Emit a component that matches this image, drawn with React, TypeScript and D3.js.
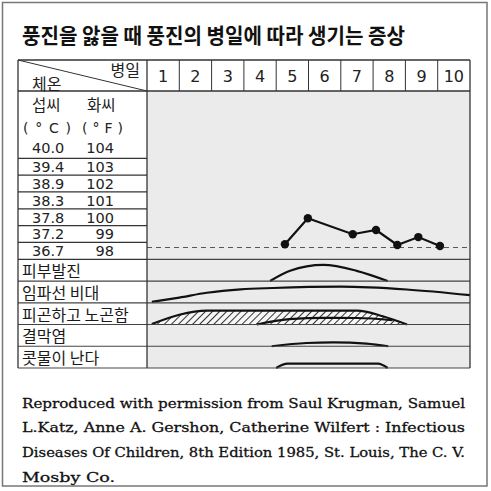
import React, { useEffect, useRef } from 'react';
import * as d3 from 'd3';

const title = '풍진을 앓을 때 풍진의 병일에 따라 생기는 증상';
const dayLabels = ['1', '2', '3', '4', '5', '6', '7', '8', '9', '10'];
const celsiusLabels = ['40.0', '39.4', '38.9', '38.3', '37.8', '37.2', '36.7'];
const fahrenheitTicks = [104, 103, 102, 101, 100, 99, 98];
const normalTempF = 98.7;

// fever curve: day position (0 = start of day 1) and temperature in °F
const feverDays = [4.27, 4.98, 6.37, 7.09, 7.75, 8.4, 9.07];
const feverTempsF = [98.89, 100.44, 99.49, 99.74, 98.85, 99.32, 98.79];

const symptoms = ['피부발진', '임파선 비대', '피곤하고 노곤함', '결막염', '콧물이 난다'];

// symptom intensity (0..1 of row height) against day position
const rashCurve: [number, number][] = [[3.81, 0], [4.43, 0.47], [5.46, 0.74], [6.49, 0.47], [7.45, 0]];
const lymphCurve: [number, number][] = [[0.15, 0.04], [1, 0.24], [1.85, 0.46], [2.9, 0.62], [3.9, 0.68], [6, 0.74], [8.04, 0.61], [10, 0.35]];
const fatigueOuter: [number, number][] = [[0.15, 0.02], [1, 0.45], [1.85, 0.64], [6.5, 0.64], [7.3, 0.38], [8.05, 0]];
const fatigueInner: [number, number][] = [[3.4, 0], [4.4, 0.25], [5.5, 0.31], [6.5, 0.3], [7.6, 0.2]];
const conjCurve: [number, number][] = [[3.86, 0], [4.94, 0.15], [5.77, 0.18], [6.8, 0.12], [7.47, 0]];
const coryzaCurve: [number, number][] = [[4.0, 0], [4.35, 0.2], [7.15, 0.2], [7.45, 0]];

const captionLines = [
  'Reproduced with permission from Saul Krugman, Samuel',
  'L.Katz, Anne A. Gershon, Catherine Wilfert : Infectious',
  'Diseases Of Children, 8th Edition 1985, St. Louis, The C. V.',
  'Mosby Co.',
];

const KR = '"Noto Sans CJK KR", "Noto Sans", sans-serif';
const NUM = '"DejaVu Sans", sans-serif';

export default function App() {
  const svgRef = useRef<SVGSVGElement>(null);

  useEffect(() => {
    if (!svgRef.current) return;
    const svg = d3.select(svgRef.current);
    svg.selectAll('*').remove();

    const left = 18, labelRight = 147, right = 470;
    const top = 60, headTop = 91, bottom = 368;

    const x = d3.scaleLinear().domain([0, 10]).range([labelRight, right]);
    const y = d3.scaleLinear().domain([98, 104]).range([259.3, 158.3]);
    const rows = d3.scaleBand<string>().domain(symptoms).range([y(98), bottom]);

    // hatch pattern
    const defs = svg.append('defs');
    const pat = defs.append('pattern')
      .attr('id', 'hatch')
      .attr('patternUnits', 'userSpaceOnUse')
      .attr('width', 5)
      .attr('height', 5)
      .attr('patternTransform', 'rotate(45)');
    pat.append('rect').attr('width', 5).attr('height', 5).attr('fill', '#f6f6f6');
    pat.append('line').attr('x1', 0).attr('y1', 0).attr('x2', 0).attr('y2', 5)
      .attr('stroke', '#333').attr('stroke-width', 2);

    svg.append('rect').attr('width', 491).attr('height', 491).attr('fill', '#fff');

    // outer frame
    svg.append('rect')
      .attr('x', 2.5).attr('y', 2.5).attr('width', 484.5).attr('height', 483.5)
      .attr('fill', 'none').attr('stroke', '#777').attr('stroke-width', 1.5);

    svg.append('text')
      .attr('x', 22).attr('y', 43)
      .attr('font-family', KR).attr('font-weight', 'bold').attr('font-size', 21)
      .attr('textLength', 383).attr('lengthAdjust', 'spacingAndGlyphs')
      .attr('fill', '#111')
      .text(title);

    // plot background
    svg.append('rect')
      .attr('x', labelRight).attr('y', headTop)
      .attr('width', right - labelRight).attr('height', bottom - headTop)
      .attr('fill', '#ebebeb');

    const g = svg.append('g');
    const dark = '#333';

    // header
    g.append('line').attr('x1', left).attr('x2', right).attr('y1', top).attr('y2', top)
      .attr('stroke', dark).attr('stroke-width', 1.3);
    g.append('line').attr('x1', left).attr('x2', right).attr('y1', headTop).attr('y2', headTop)
      .attr('stroke', dark).attr('stroke-width', 1.3);
    g.append('line').attr('x1', left).attr('y1', top).attr('x2', labelRight).attr('y2', headTop)
      .attr('stroke', dark).attr('stroke-width', 1);

    g.selectAll('.daysep')
      .data(d3.range(1, 10))
      .enter()
      .append('line')
      .attr('x1', d => x(d)).attr('x2', d => x(d))
      .attr('y1', top).attr('y2', headTop)
      .attr('stroke', dark).attr('stroke-width', 1);

    g.selectAll('.daylabel')
      .data(dayLabels)
      .enter()
      .append('text')
      .attr('x', (d, i) => x(i + 0.5))
      .attr('y', 82)
      .attr('text-anchor', 'middle')
      .attr('font-family', NUM).attr('font-size', 16)
      .attr('fill', '#222')
      .text(d => d);

    g.append('text').attr('x', 140).attr('y', 76).attr('text-anchor', 'end')
      .attr('font-family', KR).attr('font-size', 16).attr('fill', '#222').text('병일');
    g.append('text').attr('x', 32).attr('y', 89.5)
      .attr('font-family', KR).attr('font-size', 16).attr('fill', '#222').text('체온');

    // temperature label column
    g.append('text').attr('x', 32).attr('y', 111)
      .attr('font-family', KR).attr('font-size', 15.5).attr('fill', '#222').text('섭씨');
    g.append('text').attr('x', 87).attr('y', 111)
      .attr('font-family', KR).attr('font-size', 15.5).attr('fill', '#222').text('화씨');
    g.append('text').attr('x', 23).attr('y', 133)
      .attr('font-family', NUM).attr('font-size', 14).attr('fill', '#222')
      .attr('textLength', 48).attr('lengthAdjust', 'spacing').text('(°C)');
    g.append('text').attr('x', 82).attr('y', 133)
      .attr('font-family', NUM).attr('font-size', 14).attr('fill', '#222')
      .attr('textLength', 41).attr('lengthAdjust', 'spacing').text('(°F)');

    g.selectAll('.tline')
      .data(fahrenheitTicks)
      .enter()
      .append('line')
      .attr('x1', left).attr('x2', labelRight)
      .attr('y1', d => y(d)).attr('y2', d => y(d))
      .attr('stroke', dark).attr('stroke-width', 1.2);

    const labelY = (i: number) => y(fahrenheitTicks[i]) - (i === 0 ? 5 : 3);

    g.selectAll('.clabel')
      .data(celsiusLabels)
      .enter()
      .append('text')
      .attr('x', 32)
      .attr('y', (d, i) => labelY(i))
      .attr('font-family', NUM).attr('font-size', 14.5).attr('fill', '#222')
      .text(d => d);

    g.selectAll('.flabel')
      .data(fahrenheitTicks)
      .enter()
      .append('text')
      .attr('x', 114)
      .attr('y', (d, i) => labelY(i))
      .attr('text-anchor', 'end')
      .attr('font-family', NUM).attr('font-size', 14.5).attr('fill', '#222')
      .text(d => String(d));

    // normal temperature
    g.append('line')
      .attr('x1', labelRight).attr('x2', right)
      .attr('y1', y(normalTempF)).attr('y2', y(normalTempF))
      .attr('stroke', '#555').attr('stroke-width', 1)
      .attr('stroke-dasharray', '5,4');

    // fever line
    const feverData = feverDays.map((d, i) => [d, feverTempsF[i]] as [number, number]);
    g.append('path')
      .datum(feverData)
      .attr('d', d3.line<[number, number]>().x(d => x(d[0])).y(d => y(d[1])))
      .attr('fill', 'none').attr('stroke', '#111').attr('stroke-width', 2.2);
    g.selectAll('.fdot')
      .data(feverData)
      .enter()
      .append('circle')
      .attr('cx', d => x(d[0])).attr('cy', d => y(d[1]))
      .attr('r', 4.2).attr('fill', '#111');

    // symptom rows
    const bw = rows.bandwidth();
    g.selectAll('.slabel')
      .data(symptoms)
      .enter()
      .append('text')
      .attr('x', 22)
      .attr('y', d => (rows(d) as number) + bw / 2 + 7)
      .attr('font-family', KR).attr('font-size', 16).attr('fill', '#1a1a1a')
      .text(d => d);

    const curveIn = (name: string) => {
      const base = (rows(name) as number) + bw;
      return d3.line<[number, number]>()
        .x(d => x(d[0]))
        .y(d => base - d[1] * bw)
        .curve(d3.curveMonotoneX);
    };

    const fatigueBase = (rows(symptoms[2]) as number) + bw;
    g.append('path')
      .datum(fatigueOuter)
      .attr('d', d3.area<[number, number]>()
        .x(d => x(d[0]))
        .y0(fatigueBase)
        .y1(d => fatigueBase - d[1] * bw)
        .curve(d3.curveMonotoneX))
      .attr('fill', 'url(#hatch)');

    const curves: [string, [number, number][]][] = [
      [symptoms[0], rashCurve],
      [symptoms[1], lymphCurve],
      [symptoms[2], fatigueOuter],
      [symptoms[2], fatigueInner],
      [symptoms[3], conjCurve],
      [symptoms[4], coryzaCurve],
    ];
    curves.forEach(([name, pts]) => {
      g.append('path')
        .datum(pts)
        .attr('d', curveIn(name))
        .attr('fill', 'none').attr('stroke', '#111').attr('stroke-width', 2.2);
    });

    g.selectAll('.rline')
      .data(symptoms)
      .enter()
      .append('line')
      .attr('x1', left).attr('x2', right)
      .attr('y1', d => (rows(d) as number) + bw).attr('y2', d => (rows(d) as number) + bw)
      .attr('stroke', '#444').attr('stroke-width', 1.2);
    g.append('line').attr('x1', labelRight).attr('x2', right)
      .attr('y1', y(98)).attr('y2', y(98))
      .attr('stroke', '#444').attr('stroke-width', 1.2);

    // vertical borders
    [left, labelRight, right].forEach(v => {
      g.append('line').attr('x1', v).attr('x2', v).attr('y1', top).attr('y2', bottom)
        .attr('stroke', dark).attr('stroke-width', 1.3);
    });

    // caption
    svg.selectAll('.caption')
      .data(captionLines)
      .enter()
      .append('text')
      .attr('x', 22)
      .attr('y', (d, i) => 407.7 + i * 24.6)
      .attr('font-family', '"DejaVu Serif", serif')
      .attr('font-size', 13.5)
      .attr('fill', '#111')
      .attr('stroke', '#111')
      .attr('stroke-width', 0.3)
      .attr('textLength', (d, i) => (i < 3 ? 443 : 93))
      .attr('lengthAdjust', 'spacingAndGlyphs')
      .text(d => d);
  }, []);

  return (
    <svg
      ref={svgRef}
      width={491}
      height={491}
      style={{ position: 'absolute', left: 0, top: 0, display: 'block' }}
    />
  );
}
